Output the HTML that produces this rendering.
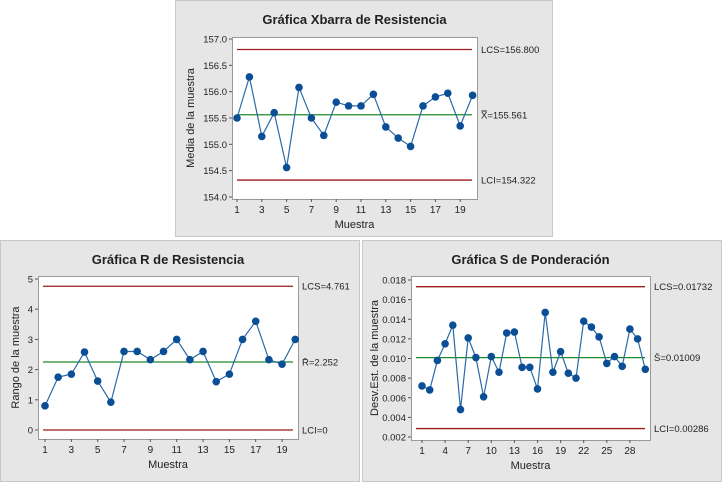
<!DOCTYPE html>
<html><head><meta charset="utf-8"><style>
body{margin:0;background:#fff;width:722px;height:482px;overflow:hidden}
text{font-family:"Liberation Sans",sans-serif;fill:#222}
</style></head><body>
<svg id="s" width="722" height="482" xmlns="http://www.w3.org/2000/svg"></svg>
<script>
const S=document.getElementById('s');let h='';
function chart(c){
 const {bx,by,bw,bh,L,R,T,B,y0,yv0,y1,yv1,x1,xstep,data,ticks,xt,title,ylab,lines,ylx}=c;
 h+=`<rect x="${bx+.5}" y="${by+.5}" width="${bw}" height="${bh}" fill="#e6e6e6" stroke="#c8c8c8"/>`;
 h+=`<rect x="${L+.5}" y="${T+.5}" width="${R-L}" height="${B-T}" fill="#fff" stroke="#9a9a9a"/>`;
 h+=`<text x="${(L+R)/2}" y="${by+24}" font-size="13" font-weight="bold" text-anchor="middle">${title}</text>`;
 const Y=v=>y0+(v-yv0)*(y1-y0)/(yv1-yv0), X=i=>x1+(i-1)*xstep;
 ticks.forEach(t=>{const y=Y(+t);h+=`<line x1="${L-3}" x2="${L}" y1="${y}" y2="${y}" stroke="#555"/><text x="${L-5}" y="${y+3.5}" font-size="9.5" text-anchor="end">${t}</text>`});
 xt.forEach(i=>{const x=X(i);h+=`<line x1="${x}" x2="${x}" y1="${B}" y2="${B+3}" stroke="#555"/><text x="${x}" y="${B+14}" font-size="10" text-anchor="middle">${i}</text>`});
 h+=`<text x="${(L+R)/2}" y="${B+29}" font-size="11" text-anchor="middle">Muestra</text>`;
 h+=`<text transform="translate(${ylx},${(T+B)/2}) rotate(-90)" font-size="11" text-anchor="middle">${ylab}</text>`;
 lines.forEach(([v,col,lab])=>{const y=Y(v);h+=`<line x1="${L+5}" x2="${R-5}" y1="${y}" y2="${y}" stroke="${col}" stroke-width="1.3"/><text x="${R+4}" y="${y+3.5}" font-size="9.5">${lab}</text>`});
 h+=`<polyline fill="none" stroke="#2a6aa8" stroke-width="1.2" points="${data.map((v,i)=>X(i+1)+','+Y(v)).join(' ')}"/>`;
 data.forEach((v,i)=>h+=`<circle cx="${X(i+1)}" cy="${Y(v)}" r="3.8" fill="#0a4f96"/>`);
}
chart({bx:175,by:0,bw:377,bh:236,L:232,R:477,T:37,B:199,y0:39,yv0:157,y1:197,yv1:154,x1:237,xstep:12.4,ylx:194,
data:[155.5,156.28,155.15,155.6,154.56,156.08,155.5,155.17,155.8,155.73,155.73,155.95,155.33,155.12,154.96,155.73,155.9,155.97,155.35,155.93],
ticks:['154.0','154.5','155.0','155.5','156.0','156.5','157.0'],xt:[1,3,5,7,9,11,13,15,17,19],
title:'Gráfica Xbarra de Resistencia',ylab:'Media de la muestra',
lines:[[156.8,'#9b1c1c','LCS=156.800'],[155.561,'#1f8a2a','X̿=155.561'],[154.322,'#9b1c1c','LCI=154.322']]});
chart({bx:0,by:240,bw:359,bh:241,L:38,R:298,T:276,B:439,y0:279,yv0:5,y1:430,yv1:0,x1:45,xstep:13.17,ylx:19,
data:[0.8,1.75,1.85,2.58,1.62,0.92,2.6,2.6,2.33,2.6,3.0,2.33,2.6,1.6,1.85,3.0,3.6,2.33,2.18,3.0],
ticks:['0','1','2','3','4','5'],xt:[1,3,5,7,9,11,13,15,17,19],
title:'Gráfica R de Resistencia',ylab:'Rango de la muestra',
lines:[[4.761,'#9b1c1c','LCS=4.761'],[2.252,'#1f8a2a','R̄=2.252'],[0,'#9b1c1c','LCI=0']]});
chart({bx:362,by:240,bw:359,bh:241,L:411,R:650,T:276,B:440,y0:280,yv0:0.018,y1:437,yv1:0.002,x1:422,xstep:7.7,ylx:378,
data:[.0072,.0068,.0098,.0115,.0134,.0048,.0121,.0101,.0061,.0102,.0086,.0126,.0127,.0091,.0091,.0069,.0147,.0086,.0107,.0085,.0080,.0138,.0132,.0122,.0095,.0102,.0092,.0130,.0120,.0089],
ticks:['0.002','0.004','0.006','0.008','0.010','0.012','0.014','0.016','0.018'],xt:[1,4,7,10,13,16,19,22,25,28],
title:'Gráfica S de Ponderación',ylab:'Desv.Est. de la muestra',
lines:[[0.01732,'#9b1c1c','LCS=0.01732'],[0.01009,'#1f8a2a','S̄=0.01009'],[0.00286,'#9b1c1c','LCI=0.00286']]});
S.innerHTML=h;
</script>
</body></html>
